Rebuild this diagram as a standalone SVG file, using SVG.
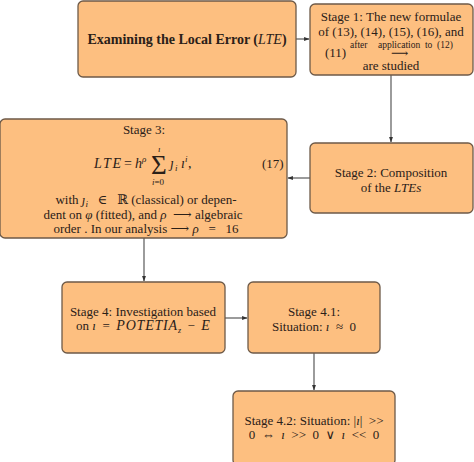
<svg xmlns="http://www.w3.org/2000/svg" width="474" height="462" viewBox="0 0 474 462">
<style>
.box{fill:#fdbf80;stroke:#6e5a48;stroke-width:1.3}
text{font-family:"Liberation Serif","DejaVu Serif",serif;font-size:13px;fill:#2a2018;white-space:pre}
.c{text-anchor:middle}
.it{font-style:italic}
.sm{font-size:9.5px}
.xs{font-size:9px}
.m{font-size:14px}
.bold{font-weight:bold;font-size:14px}
.edge{stroke:#4a4a4a;stroke-width:1.1;fill:none}
</style>
<defs>
<marker id="ah" viewBox="0 0 10 10" refX="9" refY="5" markerWidth="5" markerHeight="5" orient="auto">
<path d="M0,1.5 L10,5 L0,8.5 z" fill="#333"/>
</marker>
</defs>
<g id="connectors">
<line class="edge" x1="296" y1="39" x2="309" y2="39" marker-end="url(#ah)"/>
<line class="edge" x1="391" y1="75" x2="391" y2="142" marker-end="url(#ah)"/>
<line class="edge" x1="310" y1="178" x2="288" y2="178" marker-end="url(#ah)"/>
<line class="edge" x1="144" y1="238" x2="144" y2="281" marker-end="url(#ah)"/>
<line class="edge" x1="225" y1="318" x2="247" y2="318" marker-end="url(#ah)"/>
<line class="edge" x1="314" y1="353" x2="314" y2="390" marker-end="url(#ah)"/>
</g>
<g id="examining">
<rect class="box" x="78" y="1" width="218" height="76" rx="5"/>
<text class="c bold" x="187" y="44">Examining the Local Error (<tspan class="it" style="font-weight:normal">LTE</tspan>)</text>
</g>
<g id="stage1">
<rect class="box" x="310" y="4" width="163" height="71" rx="5"/>
<text class="c" x="391" y="21">Stage 1: The new formulae</text>
<text class="c" x="391" y="36">of (13), (14), (15), (16), and</text>
<text x="325" y="57">(11)</text>
<text class="sm" x="350" y="48">after</text>
<text class="sm" x="378" y="48">application  to  (12)</text>
<text x="391" y="57" style="font-size:12px">⟶</text>
<text class="c" x="391" y="70">are studied</text>
</g>
<g id="stage2">
<rect class="box" x="310" y="143" width="163" height="70" rx="5"/>
<text class="c" x="391" y="177">Stage 2: Composition</text>
<text class="c" x="391" y="192">of the <tspan class="it">LTEs</tspan></text>
</g>
<g id="stage3">
<rect class="box" x="0" y="119" width="287" height="119" rx="5"/>
<text class="c" x="144" y="134">Stage 3:</text>
<text class="it m" x="94" y="168" textLength="27" lengthAdjust="spacing">LTE</text>
<text class="m" x="124" y="168">=</text>
<text class="it m" x="135" y="168">h</text>
<text class="it xs" x="142" y="162">ρ</text>
<text x="151" y="174" style="font-size:27px">Σ</text>
<text class="it xs" x="158" y="152">ı</text>
<text class="xs" x="152" y="185"><tspan class="it">i</tspan>=0</text>
<text class="it m" x="170" y="168">ȷ</text>
<text class="it xs" x="175" y="171">i</text>
<text class="it m" x="181" y="168">ı</text>
<text class="it xs" x="185" y="162">i</text>
<text class="m" x="188" y="168">,</text>
<text x="262" y="168">(17)</text>
<text class="c" x="146" y="204">with <tspan class="it">ȷ</tspan><tspan class="it xs" dy="3">i</tspan><tspan dy="-3">   ∈   ℝ (classical) or depen-</tspan></text>
<text class="c" x="143" y="219">dent on <tspan class="it">φ</tspan> (fitted), and <tspan class="it">ρ</tspan>  ⟶ algebraic</text>
<text class="c" x="146" y="233">order . In our analysis ⟶ <tspan class="it">ρ</tspan>   =   16</text>
</g>
<g id="stage4">
<rect class="box" x="62" y="282" width="163" height="71" rx="5"/>
<text class="c" x="143" y="316">Stage 4: Investigation based</text>
<text class="c" x="143" y="330">on <tspan class="it">ı</tspan>  =  <tspan class="it m" letter-spacing="0.8">POTETIA</tspan><tspan class="it" style="font-size:8px" dy="3">z</tspan><tspan dy="-3">  −  </tspan><tspan class="it m">E</tspan></text>
</g>
<g id="stage41">
<rect class="box" x="248" y="282" width="132" height="71" rx="5"/>
<text class="c" x="314" y="316">Stage 4.1:</text>
<text class="c" x="314" y="331">Situation: <tspan class="it">ı</tspan>  ≈  0</text>
</g>
<g id="stage42">
<rect class="box" x="233" y="391" width="162" height="74" rx="5"/>
<text class="c" x="314" y="425">Stage 4.2: Situation: |<tspan class="it">ı</tspan>|  &gt;&gt;</text>
<text class="c" x="314" y="439">0  ⇔  <tspan class="it">ı</tspan>  &gt;&gt;  0  ∨  <tspan class="it">ı</tspan>  &lt;&lt;  0</text>
</g>
</svg>
